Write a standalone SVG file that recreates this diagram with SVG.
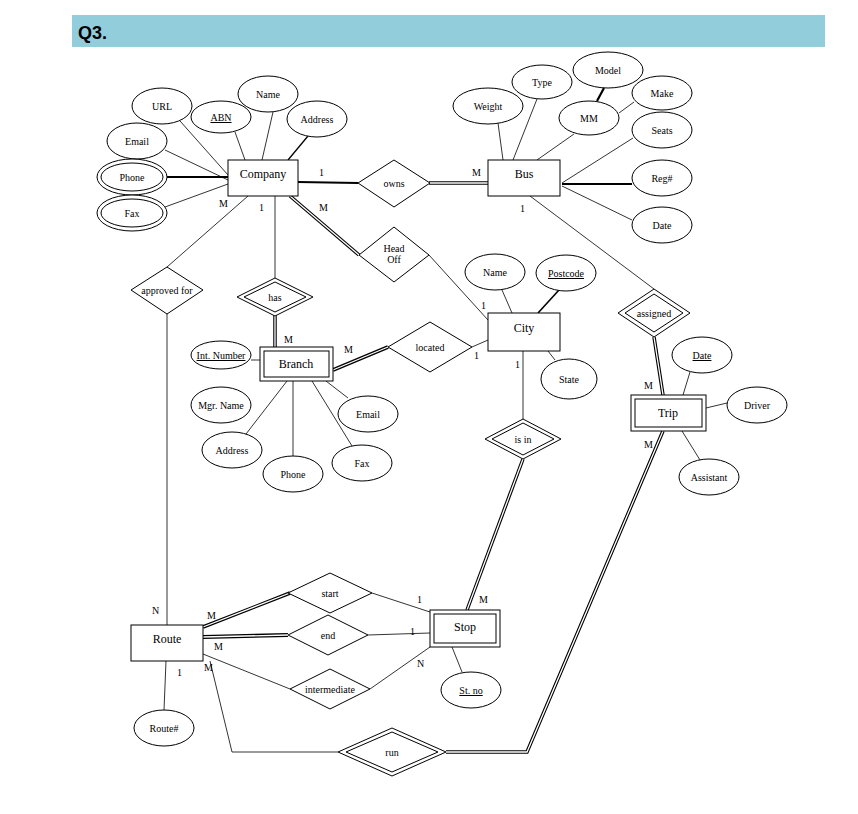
<svg xmlns="http://www.w3.org/2000/svg" width="858" height="814" viewBox="0 0 858 814">
<style>
.s{fill:#fff;stroke:#000;stroke-width:1}
.t{font-family:"Liberation Serif",serif;font-size:10px;text-anchor:middle;fill:#000}
.b{font-family:"Liberation Serif",serif;font-size:12px;text-anchor:middle;fill:#000}
.l{font-family:"Liberation Serif",serif;font-size:10px;fill:#000}
.c line,.c polyline{stroke:#000;stroke-width:0.8;fill:none}
.c .k{stroke-width:2.2}
.c .d{stroke-width:3.5}
.c .w{stroke:#fff;stroke-width:1.3}
</style>
<rect x="72" y="15" width="753" height="32" fill="#92CDDC"/>
<text x="78" y="39" font-family="Liberation Sans,sans-serif" font-size="18" font-weight="bold">Q3.</text>
<g class="c" id="connectors">
<line x1="180" y1="121" x2="228" y2="175"/><line x1="235" y1="132" x2="245" y2="160"/>
<line x1="273" y1="112" x2="262" y2="160"/><line class="k" x1="308" y1="136" x2="288" y2="160" style="stroke-width:1.3"/>
<line x1="165" y1="150" x2="228" y2="180"/><line class="k" x1="167" y1="177" x2="228" y2="177"/>
<line x1="165" y1="207" x2="228" y2="184"/>
<line x1="498" y1="123" x2="503" y2="160"/><line x1="537" y1="99" x2="513" y2="160"/>
<line x1="574" y1="134" x2="537" y2="160"/><line class="k" x1="597" y1="101" x2="604" y2="88"/>
<line x1="619" y1="113" x2="634" y2="102"/><line x1="633" y1="138" x2="562" y2="183"/>
<line class="k" x1="562" y1="184" x2="632" y2="184"/><line x1="632" y1="220" x2="562" y2="186"/>
<line x1="502" y1="290" x2="512" y2="313"/><line class="k" x1="559" y1="290" x2="538" y2="313" style="stroke-width:1.6"/>
<line x1="555" y1="360" x2="548" y2="351"/>
<line x1="251" y1="360" x2="260" y2="360"/><line x1="246" y1="434" x2="287" y2="381"/>
<line x1="293" y1="381" x2="293" y2="456"/><line x1="352" y1="446" x2="312" y2="381"/>
<line x1="348" y1="398" x2="326" y2="381"/>
<line x1="690" y1="372" x2="683" y2="395"/><line x1="727" y1="403" x2="706" y2="408"/>
<line x1="700" y1="460" x2="682" y2="431"/>
<line class="k" x1="298" y1="182" x2="358" y2="183"/>
<line class="d" x1="429" y1="183" x2="488" y2="183"/><line class="w" x1="429" y1="183" x2="488" y2="183"/>
<line class="d" x1="290" y1="196" x2="359" y2="255"/><line class="w" x1="290" y1="196" x2="359" y2="255"/>
<line x1="429" y1="255" x2="488" y2="320"/>
<line x1="248" y1="196" x2="167" y2="267"/><line x1="167" y1="314" x2="167" y2="625"/>
<line x1="275" y1="196" x2="275" y2="278"/>
<line class="d" x1="275" y1="315" x2="275" y2="347"/><line class="w" x1="275" y1="315" x2="275" y2="347"/>
<line class="d" x1="333" y1="370" x2="388" y2="347" style="stroke-width:4"/><line class="w" x1="333" y1="370" x2="388" y2="347"/>
<line x1="472" y1="347" x2="488" y2="340"/>
<line x1="523" y1="351" x2="523" y2="419"/>
<line class="d" x1="523" y1="459" x2="467" y2="610"/><line class="w" x1="523" y1="459" x2="467" y2="610"/>
<line x1="530" y1="196" x2="654" y2="289"/>
<line class="d" x1="654" y1="337" x2="663" y2="395"/><line class="w" x1="654" y1="337" x2="663" y2="395"/>
<polyline class="d" points="663,431 527,752 446,752"/><polyline class="w" points="663,431 527,752 446,752"/>
<polyline points="338,752 232,752 210,661"/>
<line x1="166" y1="661" x2="164" y2="710"/>
<line class="d" x1="203" y1="627" x2="290" y2="593"/><line class="w" x1="203" y1="627" x2="290" y2="593"/>
<line x1="372" y1="593" x2="430" y2="612"/>
<line class="d" x1="203" y1="637" x2="288" y2="635" style="stroke-width:4"/><line class="w" x1="203" y1="637" x2="288" y2="635"/>
<line x1="368" y1="635" x2="430" y2="633"/>
<line x1="203" y1="654" x2="290" y2="689"/><line x1="370" y1="689" x2="430" y2="647"/>
<line x1="452" y1="647" x2="462" y2="672"/>
</g>
<g id="labels">
<text class="l" x="319" y="176">1</text><text class="l" x="472" y="176">M</text>
<text class="l" x="319" y="211">M</text><text class="l" x="481" y="309">1</text>
<text class="l" x="219" y="207">M</text><text class="l" x="152" y="614">N</text>
<text class="l" x="259" y="211">1</text><text class="l" x="284" y="343">M</text>
<text class="l" x="344" y="353">M</text><text class="l" x="474" y="359">1</text>
<text class="l" x="515" y="368">1</text><text class="l" x="479" y="603">M</text>
<text class="l" x="520" y="212">1</text><text class="l" x="644" y="389">M</text>
<text class="l" x="644" y="448">M</text><text class="l" x="177" y="676">1</text>
<text class="l" x="207" y="619">M</text><text class="l" x="417" y="603">1</text>
<text class="l" x="214" y="650">M</text><text class="l" x="410" y="635">1</text>
<text class="l" x="204" y="671">M</text><text class="l" x="417" y="667">N</text>
</g>
<g id="company"><rect class="s" x="228" y="160" width="70" height="36"/><text class="b" x="263" y="178">Company</text></g>
<g id="url"><ellipse class="s" cx="162" cy="106" rx="30" ry="18"/><text class="t" x="162" y="110">URL</text></g>
<g id="abn"><ellipse class="s" cx="221" cy="117" rx="30" ry="16"/><text class="t" x="221" y="121" text-decoration="underline">ABN</text></g>
<g id="cname"><ellipse class="s" cx="268" cy="94" rx="30" ry="18"/><text class="t" x="268" y="98">Name</text></g>
<g id="caddr"><ellipse class="s" cx="317" cy="119" rx="30" ry="18"/><text class="t" x="317" y="123">Address</text></g>
<g id="cemail"><ellipse class="s" cx="137" cy="141" rx="30" ry="18"/><text class="t" x="137" y="145">Email</text></g>
<g id="cphone"><ellipse class="s" cx="132" cy="177" rx="35" ry="18" stroke-width="1.5"/><ellipse class="s" cx="132" cy="177" rx="31" ry="14"/><text class="t" x="132" y="181">Phone</text></g>
<g id="cfax"><ellipse class="s" cx="132" cy="213" rx="35" ry="18" stroke-width="1.5"/><ellipse class="s" cx="132" cy="213" rx="31" ry="14"/><text class="t" x="132" y="217">Fax</text></g>
<g id="owns"><polygon class="s" points="358,183 394,160 430,183 394,207"/><text class="t" x="394" y="187">owns</text></g>
<g id="headoff"><polygon class="s" points="359,255 394,227 429,255 394,282"/><text class="t" x="394" y="252">Head</text><text class="t" x="394" y="263">Off</text></g>
<g id="approved"><polygon class="s" points="131,290 167,267 203,290 167,314"/><text class="t" x="167" y="294">approved for</text></g>
<g id="has"><polygon class="s" points="237,297 275,278 313,297 275,316"/><polygon class="s" points="244,297 275,282 306,297 275,312"/><text class="t" x="275" y="301">has</text></g>
<g id="bus"><rect class="s" x="488" y="160" width="72" height="36"/><text class="b" x="524" y="178">Bus</text></g>
<g id="weight"><ellipse class="s" cx="488" cy="106" rx="35" ry="18"/><text class="t" x="488" y="110">Weight</text></g>
<g id="type"><ellipse class="s" cx="542" cy="82" rx="30" ry="17"/><text class="t" x="542" y="86">Type</text></g>
<g id="model"><ellipse class="s" cx="608" cy="70" rx="35" ry="18"/><text class="t" x="608" y="74">Model</text></g>
<g id="mm"><ellipse class="s" cx="589" cy="118" rx="30" ry="17"/><text class="t" x="589" y="122">MM</text></g>
<g id="make"><ellipse class="s" cx="662" cy="93" rx="30" ry="17"/><text class="t" x="662" y="97">Make</text></g>
<g id="seats"><ellipse class="s" cx="662" cy="130" rx="30" ry="18"/><text class="t" x="662" y="134">Seats</text></g>
<g id="reg"><ellipse class="s" cx="662" cy="178" rx="30" ry="18"/><text class="t" x="662" y="182">Reg#</text></g>
<g id="bdate"><ellipse class="s" cx="662" cy="225" rx="30" ry="18"/><text class="t" x="662" y="229">Date</text></g>
<g id="city"><rect class="s" x="488" y="313" width="72" height="38"/><text class="b" x="524" y="332">City</text></g>
<g id="cityname"><ellipse class="s" cx="495" cy="272" rx="30" ry="18"/><text class="t" x="495" y="276">Name</text></g>
<g id="postcode"><ellipse class="s" cx="566" cy="273" rx="30" ry="18"/><text class="t" x="566" y="277" text-decoration="underline">Postcode</text></g>
<g id="state"><ellipse class="s" cx="569" cy="379" rx="28" ry="20"/><text class="t" x="569" y="383">State</text></g>
<g id="assigned"><polygon class="s" points="618,313 654,289 690,313 654,337"/><polygon class="s" points="625,313 654,294 683,313 654,332"/><text class="t" x="654" y="317">assigned</text></g>
<g id="located"><polygon class="s" points="388,347 430,322 472,347 430,372"/><text class="t" x="430" y="351">located</text></g>
<g id="branch"><rect class="s" x="260" y="347" width="73" height="34"/><rect class="s" x="264" y="351" width="65" height="26"/><text class="b" x="296" y="368">Branch</text></g>
<g id="intnum"><ellipse class="s" cx="221" cy="355" rx="30" ry="14"/><text class="t" x="221" y="359" text-decoration="underline">Int. Number</text></g>
<g id="mgr"><ellipse class="s" cx="221" cy="405" rx="30" ry="18"/><text class="t" x="221" y="409">Mgr. Name</text></g>
<g id="baddr"><ellipse class="s" cx="232" cy="450" rx="30" ry="18"/><text class="t" x="232" y="454">Address</text></g>
<g id="bphone"><ellipse class="s" cx="293" cy="474" rx="30" ry="18"/><text class="t" x="293" y="478">Phone</text></g>
<g id="bemail"><ellipse class="s" cx="368" cy="414" rx="30" ry="18"/><text class="t" x="368" y="418">Email</text></g>
<g id="bfax"><ellipse class="s" cx="362" cy="463" rx="30" ry="18"/><text class="t" x="362" y="467">Fax</text></g>
<g id="isin"><polygon class="s" points="485,439 523,419 561,439 523,459"/><polygon class="s" points="492,439 523,423 554,439 523,455"/><text class="t" x="523" y="443">is in</text></g>
<g id="trip"><rect class="s" x="631" y="395" width="75" height="36"/><rect class="s" x="635" y="399" width="67" height="28"/><text class="b" x="668" y="417">Trip</text></g>
<g id="tdate"><ellipse class="s" cx="702" cy="355" rx="30" ry="18"/><text class="t" x="702" y="359" text-decoration="underline">Date</text></g>
<g id="driver"><ellipse class="s" cx="757" cy="405" rx="30" ry="18"/><text class="t" x="757" y="409">Driver</text></g>
<g id="assistant"><ellipse class="s" cx="709" cy="477" rx="30" ry="18"/><text class="t" x="709" y="481">Assistant</text></g>
<g id="route"><rect class="s" x="131" y="625" width="72" height="36"/><text class="b" x="167" y="643">Route</text></g>
<g id="routeno"><ellipse class="s" cx="164" cy="728" rx="30" ry="18"/><text class="t" x="164" y="732">Route#</text></g>
<g id="start"><polygon class="s" points="288,593 330,573 372,593 330,613"/><text class="t" x="330" y="597">start</text></g>
<g id="end"><polygon class="s" points="288,635 328,615 368,635 328,655"/><text class="t" x="328" y="639">end</text></g>
<g id="intermediate"><polygon class="s" points="290,689 330,669 370,689 330,709"/><text class="t" x="330" y="693">intermediate</text></g>
<g id="stop"><rect class="s" x="430" y="610" width="70" height="37"/><rect class="s" x="434" y="614" width="62" height="29"/><text class="b" x="465" y="631">Stop</text></g>
<g id="stno"><ellipse class="s" cx="471" cy="690" rx="30" ry="18"/><text class="t" x="471" y="694" text-decoration="underline">St. no</text></g>
<g id="run"><polygon class="s" points="338,752 392,728 446,752 392,776"/><polygon class="s" points="346,752 392,732 438,752 392,772"/><text class="t" x="392" y="756">run</text></g>
</svg>
